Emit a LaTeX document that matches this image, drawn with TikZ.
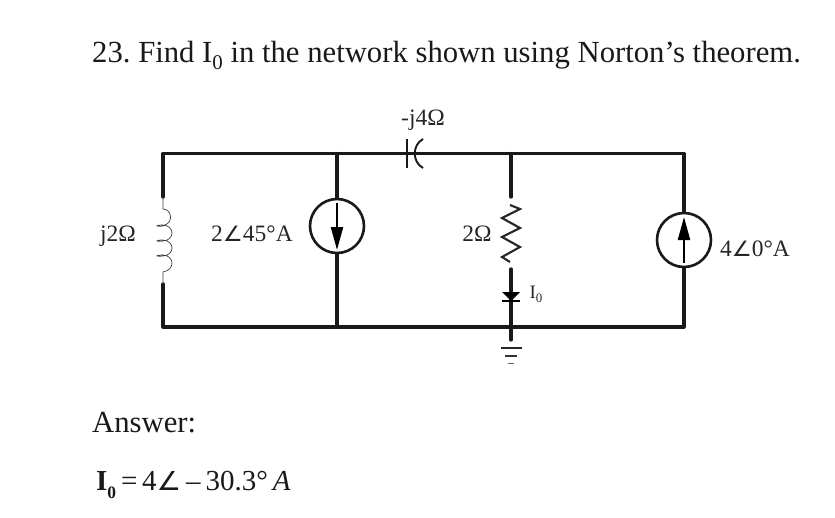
\documentclass[tikz,border=0pt]{standalone}
\usepackage{fontspec}
\setmainfont{Liberation Serif}
\newfontfamily\angfont{DejaVu Sans}
\usetikzlibrary{arrows.meta}
\newcommand{\ang}{{\angfont\scalebox{0.95}[0.9]{∠}}}
\newcommand{\lowsub}[1]{\raisebox{-0.22em}{\scalebox{0.68}{#1}}}
\frenchspacing
\tikzset{
  x=1pt,y=-1pt,
  wire/.style={line width=3.2pt,line cap=round,line join=round,black!90},
  source/.style={circle,draw=black!90,line width=2.6pt,minimum size=54pt,inner sep=0pt,fill=white},
  flow/.style={line width=2.2pt,black,-{Triangle[length=23pt,width=12pt]}},
  label/.style={inner sep=0pt,anchor=base,text=black!85,font=\fontsize{23.5}{26}\selectfont},
  heading/.style={inner sep=0pt,anchor=base west,text=black!90,font=\fontsize{30.7}{33}\selectfont},
}
\begin{document}
\begin{tikzpicture}
\useasboundingbox (0,0) rectangle (835,517);
% junctions and terminals
\coordinate (tl) at (163,153.5);
\coordinate (tm) at (337,153.5);
\coordinate (tr) at (511,153.5);
\coordinate (te) at (684,153.5);
\coordinate (bl) at (163,327);
\coordinate (bm) at (337,327);
\coordinate (br) at (511,327);
\coordinate (be) at (684,327);
\coordinate (Lt) at (163,197);
\coordinate (Lb) at (163,284);
\coordinate (Rt) at (511,197);
\coordinate (Rb) at (511,269);
\coordinate (gw) at (511,340);
% sources
\node[source] (S1) at (337,226) {};
\node[source] (S2) at (684,240) {};
% outer wiring
\draw[wire] (Lt) -- (tl) -- (te) -- (S2.north);
\draw[wire] (S2.south) -- (be) -- (bl) -- (Lb);
\draw[wire] (tm) -- (S1.north);
\draw[wire] (S1.south) -- (bm);
\draw[wire] (tr) -- (Rt);
\draw[wire] (Rb) -- (gw);
% source arrows
\coordinate (a1s) at (337,203);
\coordinate (a1e) at (337,250);
\coordinate (a2s) at (684,263);
\coordinate (a2e) at (684,217);
\draw[flow] (a1s) -- (a1e);
\draw[flow] (a2s) -- (a2e);
% inductor
\draw[line width=0.7pt,black!75] (Lt) -- (163,209)
  .. controls (171,209) and (175,222) .. (163,226)
  .. controls (155,227) and (155,225) .. (163,225)
  .. controls (175,226) and (175,240) .. (163,241)
  .. controls (155,242) and (155,240) .. (163,240)
  .. controls (175,241) and (175,255) .. (163,256)
  .. controls (155,257) and (155,255) .. (163,255)
  .. controls (175,256) and (175,270) .. (163,272)
  -- (Lb);
% capacitor
\coordinate (cp1) at (407,139);
\coordinate (cp2) at (407,168);
\coordinate (cc1) at (423,139);
\coordinate (cc2) at (423,168);
\draw[line width=2.2pt,black!90] (cp1) -- (cp2);
\draw[line width=1.9pt,black!90] (cc1) .. controls (412,145) and (412,162) .. (cc2);
% resistor
\draw[line width=2.1pt,black!85,line join=miter] (510,205) -- (520,209) -- (502,218) -- (520,228) -- (502,237) -- (520,247) -- (502,257) -- (510,262);
% current marker
\coordinate (dl) at (502,292);
\coordinate (dr) at (520,292);
\coordinate (dm) at (511,301);
\fill[black] (dl) -- (dr) -- (dm) -- cycle;
\coordinate (bar1) at (502,301);
\coordinate (bar2) at (520,301);
\draw[line width=1.6pt,black] (bar1) -- (bar2);
% ground
\coordinate (g1a) at (501,348); \coordinate (g1b) at (522,348);
\coordinate (g2a) at (505,356); \coordinate (g2b) at (517,356);
\coordinate (g3a) at (508,363); \coordinate (g3b) at (514,363);
\draw[line width=1.6pt,black!85] (g1a) -- (g1b);
\draw[line width=1.4pt,black!80] (g2a) -- (g2b);
\draw[line width=0.9pt,black!60] (g3a) -- (g3b);
% labels
\node[heading] (title) at (92,62.5) {23. Find I\lowsub{0} in the network shown using Norton’s theorem.};
\node[label] (lc) at (423,125) {-j4Ω};
\node[label] (ll) at (118,241.5) {j2Ω};
\node[label] (ls1) at (252,241.5) {2\ang45°A};
\node[label] (lr) at (477,241.5) {2Ω};
\node[label] (ls2) at (755,256) {4\ang0°A};
\node[label,font=\fontsize{19}{21}\selectfont] (lio) at (536,298) {I\lowsub{0}};
\node[heading] (ans) at (92,432) {Answer:};
\node[heading,font=\fontsize{29}{32}\selectfont] (res) at (96,490) {\textbf{I}\raisebox{-0.3em}{\scalebox{0.6}{\textbf{0}}}\,=\,4\ang\,–\,30.3°\,\textit{A}};
\end{tikzpicture}
\end{document}
